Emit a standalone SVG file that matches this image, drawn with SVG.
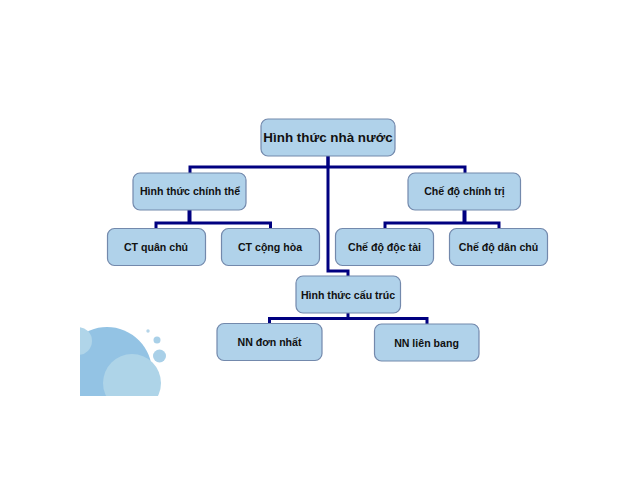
<svg xmlns="http://www.w3.org/2000/svg" width="638" height="478" viewBox="0 0 638 478">
<style>
.n{fill:#b0d2ea;stroke:#7389ac;stroke-width:1.2}
.t{font-family:"Liberation Sans",Arial,sans-serif;font-weight:700;font-size:10.600px;fill:#111;text-anchor:middle}
.c{fill:none;stroke:#000080;stroke-linejoin:miter}
</style>
<defs><clipPath id="clip"><rect x="80" y="320" width="90" height="76"/></clipPath></defs>
<rect width="638" height="478" fill="#fff"/>
<g id="decor">
<g clip-path="url(#clip)">
<circle cx="107" cy="372" r="45" fill="#93c3e4"/>
<circle cx="78" cy="341" r="14" fill="#b0d5e9"/>
<circle cx="132" cy="383" r="29" fill="#aed4e8"/>
</g>
<circle cx="159.500" cy="356" r="6.500" fill="#a9d0e8"/>
<circle cx="157" cy="340" r="3.500" fill="#a9d0e8"/>
<circle cx="148" cy="331" r="1.700" fill="#b5d5e9"/>
</g>
<g id="connectors" class="c">
<path d="M328 156V167M190 173V167H465V173" stroke-width="3"/>
<path d="M328 156V271H348V276" stroke-width="3"/>
<path d="M189.500 210V223" stroke-width="4"/>
<path d="M156 228V223H270.500V228" stroke-width="3"/>
<path d="M464.500 210V223" stroke-width="4"/>
<path d="M385 228V223H499V228" stroke-width="3"/>
<path d="M348 313V318" stroke-width="3"/>
<path d="M269.500 323V318.500H427V324" stroke-width="3"/>
</g>
<g id="n0"><rect class="n" x="261" y="119" width="134" height="37" rx="7"/><text class="t" x="328" y="142" style="font-size:13.400px">Hình thức nhà nước</text></g>
<g id="n1"><rect class="n" x="133" y="173" width="113" height="37" rx="7"/><text class="t" x="190" y="195">Hình thức chính thể</text></g>
<g id="n2"><rect class="n" x="408" y="173" width="112.500" height="37" rx="7"/><text class="t" x="464.500" y="195">Chế độ chính trị</text></g>
<g id="n3"><rect class="n" x="107.500" y="228.500" width="98" height="37" rx="7"/><text class="t" x="156" y="251">CT quân chủ</text></g>
<g id="n4"><rect class="n" x="221.500" y="228.500" width="98" height="37" rx="7"/><text class="t" x="270" y="251">CT cộng hòa</text></g>
<g id="n5"><rect class="n" x="335.500" y="228.500" width="98" height="37" rx="7"/><text class="t" x="384.500" y="251">Chế độ độc tài</text></g>
<g id="n6"><rect class="n" x="449.500" y="228.500" width="98" height="37" rx="7"/><text class="t" x="498.500" y="251">Chế độ dân chủ</text></g>
<g id="n7"><rect class="n" x="296" y="276" width="104.500" height="37" rx="7"/><text class="t" x="348" y="299">Hình thức cấu trúc</text></g>
<g id="n8"><rect class="n" x="217" y="323.500" width="105" height="37" rx="7"/><text class="t" x="269.500" y="346">NN đơn nhất</text></g>
<g id="n9"><rect class="n" x="374.500" y="324" width="104.500" height="37" rx="7"/><text class="t" x="426.500" y="347">NN liên bang</text></g>
</svg>
